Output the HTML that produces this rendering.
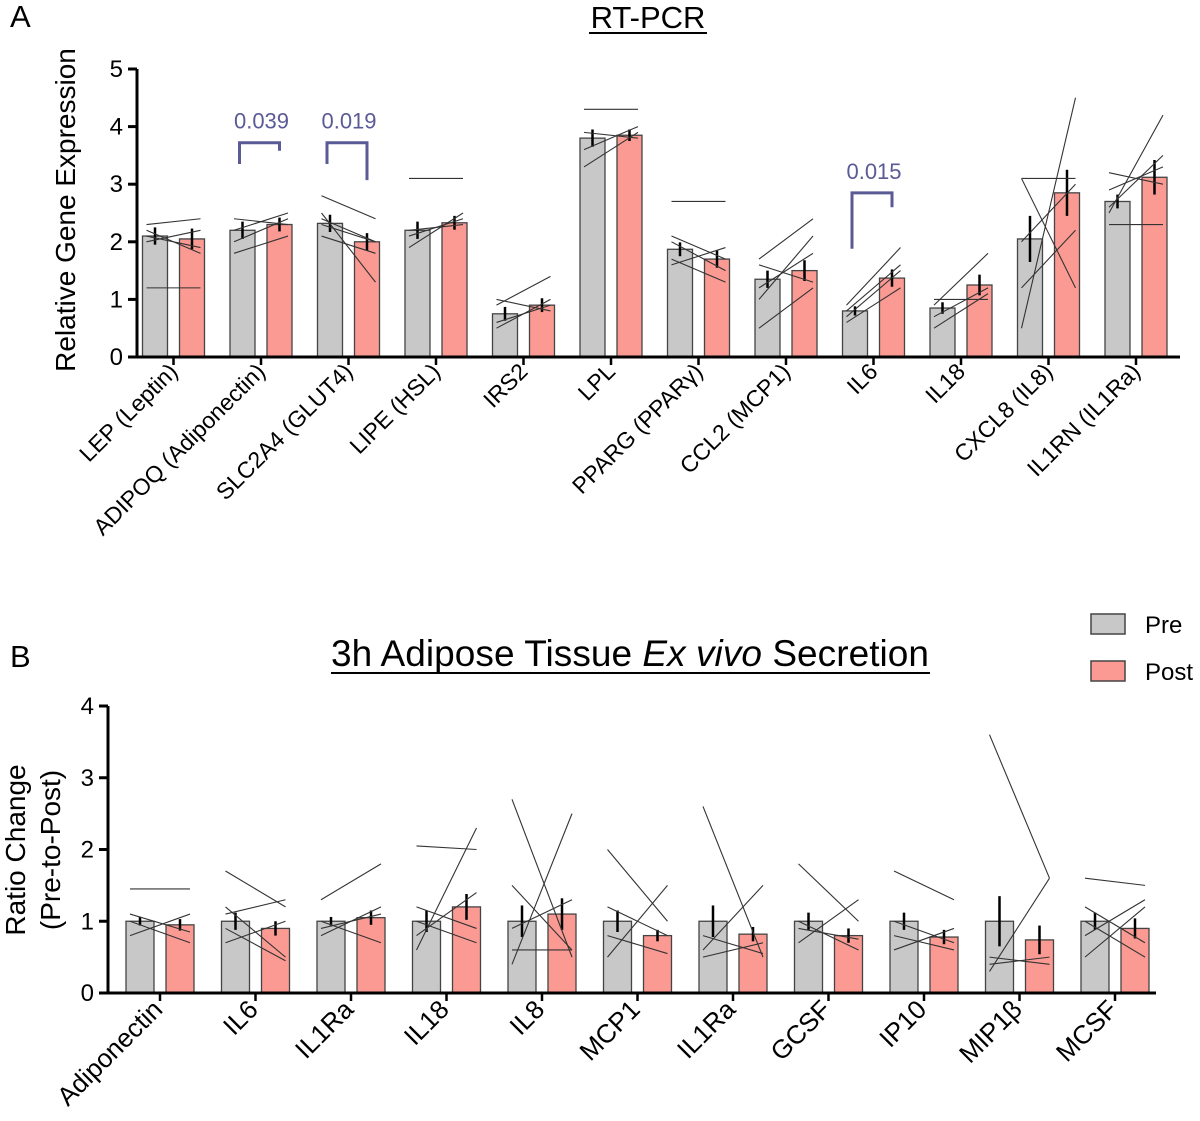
<!DOCTYPE html>
<html><head><meta charset="utf-8"><style>
body{margin:0;background:#fff;}
svg{display:block;font-family:"Liberation Sans",sans-serif;}
</style></head><body>
<svg id="c" width="1200" height="1121" viewBox="0 0 1200 1121"></svg>
<script>
// Panel A data
const catsA=["LEP (Leptin)","ADIPOQ (Adiponectin)","SLC2A4 (GLUT4)","LIPE (HSL)","IRS2","LPL","PPARG (PPARγ)","CCL2 (MCP1)","IL6","IL18","CXCL8 (IL8)","IL1RN (IL1Ra)"];
const preA=[2.1,2.2,2.32,2.2,0.75,3.8,1.87,1.35,0.8,0.85,2.05,2.7];
const postA=[2.05,2.3,2.0,2.33,0.9,3.85,1.7,1.5,1.37,1.25,2.85,3.12];
const preErrA=[0.15,0.15,0.15,0.15,0.12,0.15,0.12,0.15,0.08,0.1,0.4,0.12];
const postErrA=[0.18,0.12,0.15,0.12,0.12,0.1,0.15,0.18,0.15,0.18,0.4,0.3];
const pairsA=[[[2.3,2.4],[2.1,1.9],[1.2,1.2],[2.0,2.2],[2.2,1.8]],[[2.0,2.4],[2.2,2.5],[1.8,2.1],[2.4,2.3]],[[2.8,2.4],[2.4,2.0],[2.1,1.8],[2.5,1.3],[2.3,2.0]],[[3.1,3.1],[2.1,2.4],[2.2,2.3],[1.9,2.5]],[[0.5,1.0],[0.9,1.4],[1.0,0.8],[0.6,0.9]],[[4.3,4.3],[3.6,4.0],[3.9,3.8],[3.3,3.9]],[[2.7,2.7],[2.0,1.5],[1.6,1.9],[1.7,1.3],[2.1,1.7]],[[1.7,2.4],[0.5,1.2],[1.2,1.8],[1.6,1.3],[1.0,2.1]],[[0.7,1.5],[0.8,1.6],[0.9,1.9],[0.6,1.2]],[[0.5,1.1],[0.9,1.8],[0.7,1.2],[1.0,1.0]],[[0.5,4.5],[3.1,3.1],[1.2,2.2],[2.0,3.0],[3.1,1.2]],[[3.2,3.0],[2.3,2.3],[2.5,4.2],[2.9,3.3],[2.6,3.5]]];
// Panel B data
const catsB=["Adiponectin","IL6","IL1Ra","IL18","IL8","MCP1","IL1Ra","GCSF","IP10","MIP1β","MCSF"];
const preB=[1,1,1,1,1,1,1,1,1,1,1];
const postB=[0.95,0.9,1.05,1.2,1.1,0.8,0.82,0.8,0.78,0.74,0.9];
const preErrB=[0.06,0.12,0.06,0.15,0.22,0.15,0.22,0.12,0.12,0.35,0.12];
const postErrB=[0.08,0.1,0.1,0.18,0.22,0.08,0.1,0.1,0.1,0.2,0.14];
const pairsB=[[[1.45,1.45],[1.0,0.7],[0.8,1.1],[1.1,0.85]],[[1.7,1.2],[1.2,0.5],[0.7,1.0],[0.9,0.45],[1.1,1.3]],[[1.3,1.8],[0.9,1.1],[1.0,0.7],[0.8,1.2]],[[2.05,2.0],[0.6,2.3],[0.8,1.4],[1.0,0.7],[1.2,0.9]],[[2.7,0.5],[0.4,2.5],[1.5,0.6],[0.9,1.3],[0.6,0.6]],[[2.0,1.0],[0.5,1.5],[0.8,0.55],[1.2,0.8]],[[2.6,0.5],[0.6,1.5],[0.5,0.7],[0.8,0.55]],[[1.8,1.0],[0.7,1.3],[1.0,0.6],[0.9,0.75]],[[1.7,1.3],[0.6,0.9],[1.0,0.7],[0.8,0.6]],[[3.6,1.6],[0.4,0.5],[0.3,1.6],[0.5,0.4]],[[1.6,1.5],[0.8,1.3],[0.5,1.2],[1.0,0.5],[1.2,0.7]]];
// p-value annotations [groupIndex, text, bracket top value, left leg bottom, right leg bottom]
const annotA=[[1,"0.039",3.72,3.35,3.58],[2,"0.019",3.72,3.35,3.07],[8,"0.015",2.85,1.88,2.6]];

const NS="http://www.w3.org/2000/svg";
const svg=document.getElementById('c');
function el(tag,attrs,parent,text){const e=document.createElementNS(NS,tag);for(const k in attrs)e.setAttribute(k,attrs[k]);if(text!==undefined)e.textContent=text;(parent||svg).appendChild(e);return e;}
const GRAY="#c8c8c8",RED="#fa9a93";

function panel(cfg){
  const g=el('g',{});
  
  
  const y=v=>cfg.y0-v*cfg.py;
  const x=i=>cfg.x0+i*cfg.step;
  cfg.cats.forEach((c,i)=>{
    [[cfg.pre,cfg.preErr,0,GRAY,'pre'],[cfg.post,cfg.postErr,cfg.off,RED,'post']].forEach(([vals,errs,o,col,nm])=>{
      const cx=x(i)+o;
      const r=el('rect',{x:cx-cfg.bw/2,y:y(vals[i]),width:cfg.bw,height:cfg.y0-y(vals[i]),fill:col,stroke:"#444","stroke-width":1.3},g);
      
      
      const e=el('line',{x1:cx,x2:cx,y1:y(vals[i]-errs[i]),y2:y(vals[i]+errs[i]),stroke:"#000","stroke-width":2.5},g);
      
      
    });
    cfg.pairs[i].forEach(p=>{
      const l=el('line',{x1:x(i)-cfg.bw/2+4,x2:x(i)+cfg.off+cfg.bw/2-4,y1:y(p[0]),y2:y(p[1]),stroke:"#333","stroke-width":1.1},g);
      
      
    });
    const t=el('text',{x:x(i)+cfg.labDx,y:cfg.y0+cfg.labDy,"font-size":cfg.labFs,"text-anchor":"end",transform:`rotate(-45 ${x(i)+cfg.labDx} ${cfg.y0+cfg.labDy})`},g,c);
    
    
  });
  el('line',{x1:cfg.ax,x2:cfg.ax,y1:y(cfg.ymax),y2:cfg.y0,stroke:"#000","stroke-width":3},g);
  el('line',{x1:cfg.ax,x2:cfg.xend,y1:cfg.y0,y2:cfg.y0,stroke:"#000","stroke-width":3},g);
  for(let v=0;v<=cfg.ymax;v++){
    el('line',{x1:cfg.ax-9,x2:cfg.ax,y1:y(v),y2:y(v),stroke:"#000","stroke-width":3},g);
    const t=el('text',{x:cfg.ax-14,y:y(v)+8,"font-size":24,"text-anchor":"end"},g,String(v));
    
    
  }
  cfg.cats.forEach((c,i)=>{const m=x(i)+cfg.off/2;el('line',{x1:m,x2:m,y1:cfg.y0,y2:cfg.y0+8,stroke:"#000","stroke-width":2.5},g);});
  return {g,x,y};
}
const A=panel({name:'panel-a',cats:catsA,pre:preA,post:postA,preErr:preErrA,postErr:postErrA,pairs:pairsA,x0:155,step:87.5,off:37,bw:25,y0:357,py:57.6,ymax:5,ax:137,xend:1180,labDx:24,labDy:16,labFs:23});
const B=panel({name:'panel-b',cats:catsB,pre:preB,post:postB,preErr:preErrB,postErr:postErrB,pairs:pairsB,x0:140,step:95.5,off:40,bw:28,y0:993,py:71.75,ymax:4,ax:108,xend:1156,labDx:24,labDy:18,labFs:26});
annotA.forEach(([i,txt,v,l1,l2])=>{
  const x1=A.x(i)-3,x2=A.x(i)+37,yy=A.y(v);
  const p=el('path',{d:`M${x1} ${A.y(l1)}V${yy}H${x2}V${A.y(l2)}`,fill:"none",stroke:"#5a5a96","stroke-width":3});
  
  
  const t=el('text',{x:(x1+x2)/2+2,y:yy-14,"font-size":22,fill:"#5a5a96","text-anchor":"middle"},svg,txt);
  
  
});
</script>
<svg style="position:absolute;left:0;top:0" width="1200" height="1121">
<g font-family="Liberation Sans, sans-serif">
<text x="10" y="27" font-size="31">A</text>
<text x="648" y="28" font-size="31" text-anchor="middle">RT-PCR</text>
<line x1="589" y1="33" x2="707" y2="33" stroke="#000" stroke-width="2"/>
<text transform="translate(75 210) rotate(-90)" font-size="28" text-anchor="middle">Relative Gene Expression</text>
<text x="10" y="667" font-size="31">B</text>
<text x="630" y="666" font-size="37" text-anchor="middle" textLength="598">3h Adipose Tissue <tspan font-style="italic">Ex vivo</tspan> Secretion</text>
<line x1="331" y1="673" x2="930" y2="673" stroke="#000" stroke-width="2"/>
<text transform="translate(25 850) rotate(-90)" font-size="28" text-anchor="middle">Ratio Change</text>
<text transform="translate(60 850) rotate(-90)" font-size="28" text-anchor="middle">(Pre-to-Post)</text>
<rect x="1091" y="614" width="34" height="20" fill="#c8c8c8" stroke="#444" stroke-width="1.5"/>
<text x="1145" y="633" font-size="24">Pre</text>
<rect x="1091" y="661" width="34" height="20" fill="#fa9a93" stroke="#444" stroke-width="1.5"/>
<text x="1145" y="680" font-size="24">Post</text>
</g></svg>
</body></html>
